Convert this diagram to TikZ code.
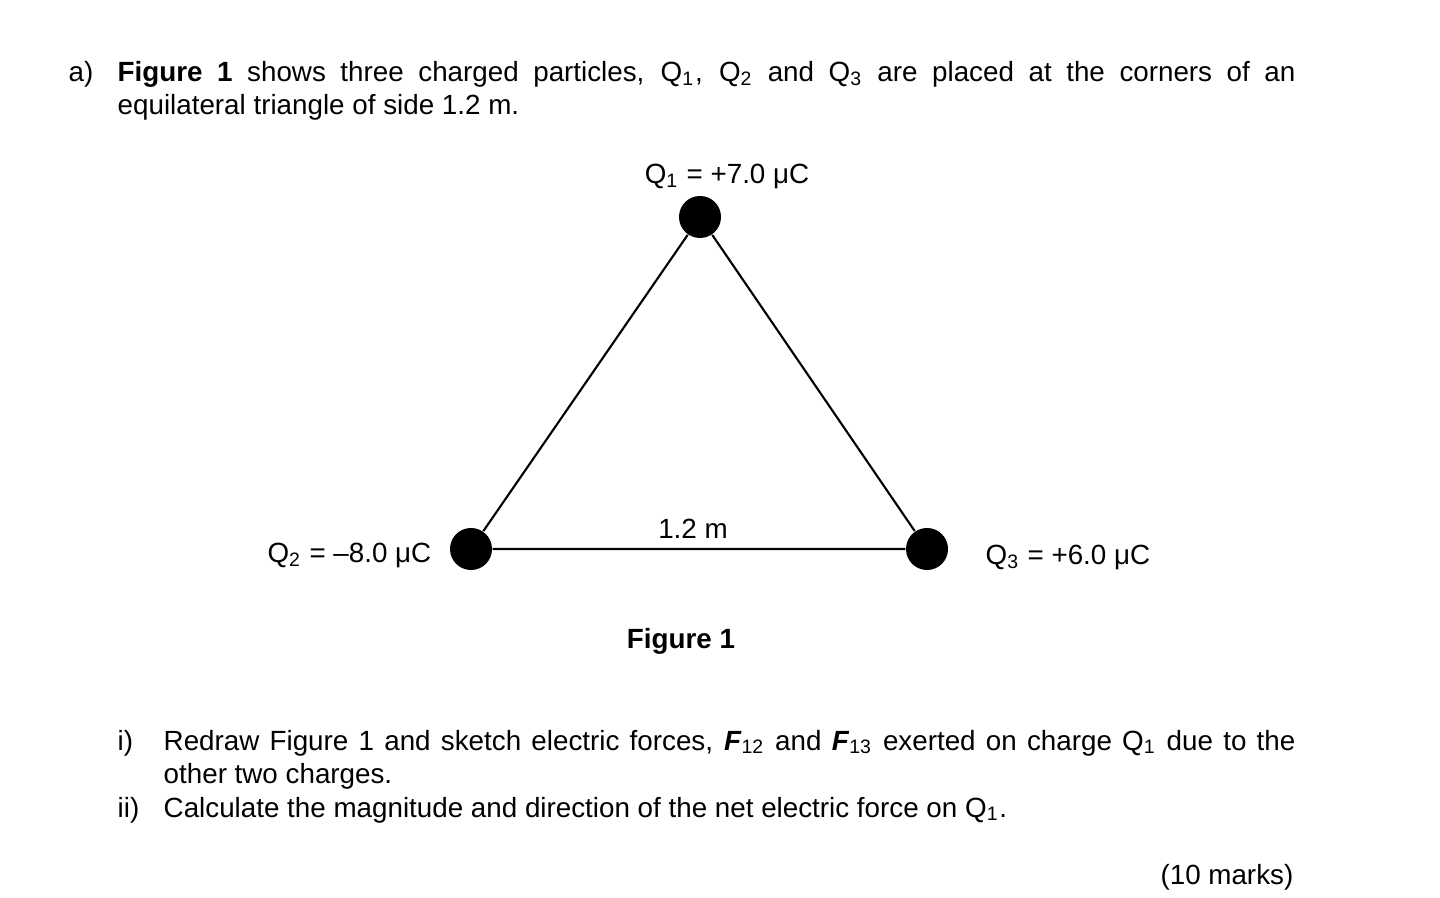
\documentclass[tikz,border=0pt]{standalone}
\usepackage{fontspec}
\setmainfont{Liberation Sans}
\newcommand{\sbs}[1]{\textsubscript{#1}}
\begin{document}
\begin{tikzpicture}[x=0.01cm,y=-0.01cm,
  every node/.style={font=\fontsize{7.9}{9.5}\selectfont, inner sep=0pt},
  charge/.style={circle,fill=black,minimum size=42\pgflinewidth,inner sep=0pt},
  dot/.style={circle,fill=black,minimum size=0.42cm}]
\useasboundingbox (0,0) rectangle (1440,898);
\node[anchor=base west] (a) at (68,82) {a)};
\node[anchor=base west] (l1) at (117,82) {\hbox to 11.77cm{\textbf{Figure 1} shows three charged particles, Q\sbs{1}, Q\sbs{2} and Q\sbs{3} are placed at the corners of an}};
\node[anchor=base west] (l2) at (117,115) {equilateral triangle of side 1.2 m.};
\node[dot] (q1) at (700,217) {};
\node[dot] (q2) at (471,549) {};
\node[dot] (q3) at (927,549) {};
\draw[line width=0.6pt] (q1) -- (q2) -- (q3) -- (q1);
\node[anchor=base] (t1) at (727,184) {Q\sbs{1} = +7.0 μC};
\node[anchor=base east] (t2) at (432,563) {Q\sbs{2} = –8.0 μC};
\node[anchor=base west] (t3) at (985,565) {Q\sbs{3} = +6.0 μC};
\node[anchor=base] (d) at (693,539) {1.2 m};
\node[anchor=base] (fig) at (681,649) {\textbf{Figure 1}};
\node[anchor=base west] (i) at (117,750) {i)};
\node[anchor=base west] (i1) at (163,750) {\hbox to 11.31cm{Redraw Figure 1 and sketch electric forces, \textbf{\textit{F}}\sbs{12} and \textbf{\textit{F}}\sbs{13} exerted on charge Q\sbs{1} due to the}};
\node[anchor=base west] (i2) at (163,784) {other two charges.};
\node[anchor=base west] (ii) at (117,817) {ii)};
\node[anchor=base west] (ii1) at (163,817) {Calculate the magnitude and direction of the net electric force on Q\sbs{1}.};
\node[anchor=base east] (m) at (1294,884) {(10 marks)};
\end{tikzpicture}
\end{document}
